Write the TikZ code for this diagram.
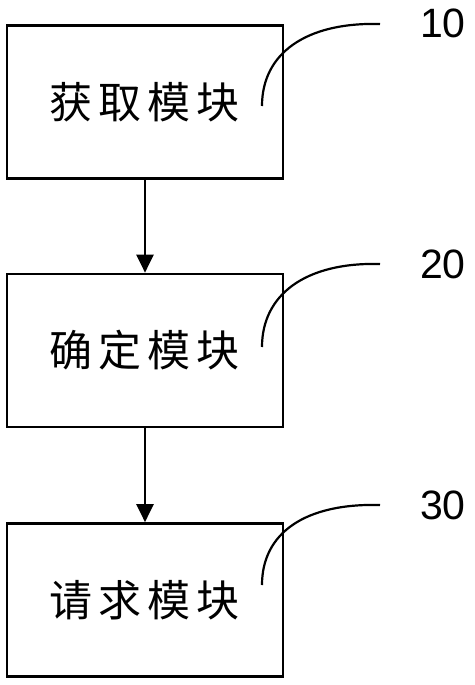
\documentclass[tikz,border=0pt]{standalone}
\usepackage{fontspec}
\setmainfont{Liberation Sans}
\newfontfamily\cjk[LetterSpace=14]{Noto Sans CJK SC}
\usetikzlibrary{arrows.meta}
\begin{document}
\begin{tikzpicture}[x=1pt,y=-1pt,
  box/.style={draw, line width=2.7pt, minimum width=276pt, minimum height=153pt, inner sep=0pt, font=\cjk\fontsize{43}{43}\selectfont},
  lead/.style={line width=2.2pt},
  num/.style={font=\fontsize{41}{41}\selectfont, inner sep=0pt},
  arr/.style={line width=2.7pt, -{Triangle[width=17pt,length=18pt]}}]
\useasboundingbox (0,0) rectangle (474,685);
\node[box] (b1) at (145,102) {获取模块};
\node[box] (b2) at (145,350.5) {确定模块};
\node[box] (b3) at (145,600) {请求模块};
\node[num] (n1) at (443,23) {10};
\node[num] (n2) at (443,264) {20};
\node[num] (n3) at (443,505) {30};
\coordinate (s1) at (380,24);  \coordinate (e1) at (262,106);
\coordinate (s2) at (380,264); \coordinate (e2) at (262,347);
\coordinate (s3) at (380,505); \coordinate (e3) at (262,585);
\draw[lead] (s1) .. controls +(-75,-2) and +(0,-52) .. (e1);
\draw[lead] (s2) .. controls +(-75,-2) and +(0,-52) .. (e2);
\draw[lead] (s3) .. controls +(-75,-2) and +(0,-52) .. (e3);
\draw[arr] (b1.south) -- (b2.north);
\draw[arr] (b2.south) -- (b3.north);
\end{tikzpicture}
\end{document}
